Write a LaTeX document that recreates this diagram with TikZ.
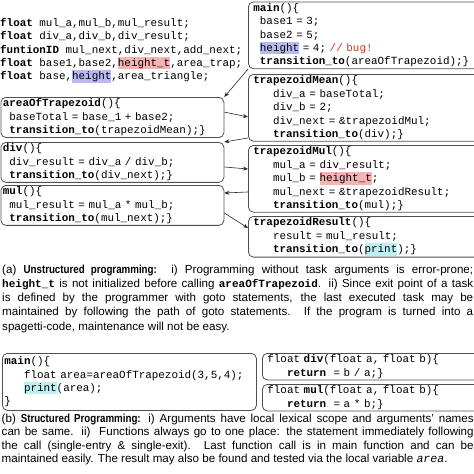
\documentclass[tikz,border=0pt]{standalone}
\usepackage{fontspec}
\usepackage{xcolor}
\usepackage{tikz}
\usetikzlibrary{arrows.meta, positioning, calc}
\setmainfont{Liberation Sans}
\newfontfamily\codefont{Liberation Mono}
\newfontfamily\headfont[FakeStretch=0.84]{Liberation Sans}
\definecolor{boxgray}{RGB}{80,80,80}
\definecolor{arrowgray}{RGB}{40,40,40}
\definecolor{hlred}{RGB}{244,180,180}
\definecolor{hlblue}{RGB}{185,185,240}
\definecolor{hlcyan}{RGB}{190,240,243}
\definecolor{bugred}{RGB}{195,60,45}
\newlength\chw
\setlength\chw{6.54pt}
\newcommand\codesize{\codefont\fontsize{10.9pt}{13.4pt}\selectfont}
\newcommand\capsize{\fontsize{11.6pt}{14.1pt}\selectfont}
\newcommand\capcode[1]{{\codefont\bfseries\fontsize{11pt}{14pt}\selectfont #1}}
\newcommand\hlt[2]{{\setlength\fboxsep{0pt}\colorbox{#1}{\rule[-3pt]{0pt}{12.5pt}#2}}}
\tikzset{
  codebox/.style={rectangle, draw=boxgray, rounded corners=5pt, line width=0.8pt,
    anchor=north west, align=left, inner xsep=2pt, inner ysep=1.5pt, font=\codesize},
  lbox/.style={codebox, text width=219pt},
  rbox/.style={codebox, inner xsep=5pt, text width=222pt},
  decl/.style={anchor=north west, inner sep=0pt, align=left, font=\codesize},
  captext/.style={anchor=north west, inner sep=0pt, text width=471pt,
    align=justify, font=\capsize},
  conn/.style={-{Stealth[length=5pt,width=4pt]}, line width=0.6pt, color=arrowgray}
}
\begin{document}
\begin{tikzpicture}[x=1pt, y=-1pt]
  \useasboundingbox (0,0) rectangle (474,474);
  \clip (0,0) rectangle (474,474);

  % Global declarations
  \node[decl] (decls) at (0,18) {\textbf{float} mul\_a,mul\_b,mul\_result;\\
    \textbf{float} div\_a,div\_b,div\_result;\\
    \textbf{funtionID} mul\_next,div\_next,add\_next;\\
    \textbf{float} base1,base2,\hlt{hlred}{height\_t},area\_trap;\\
    \textbf{float} base,\hlt{hlblue}{height},area\_triangle;};

  % Left column tasks
  \node[lbox] (aot) at (0.5,97) {\textbf{areaOfTrapezoid}()\{\\
    \hspace*{\chw}baseTotal = base\_1 + base2;\\
    \hspace*{\chw}\textbf{transition\_to}(trapezoidMean);\}};
  \node[lbox] (divA) at (0.5,142) {\textbf{div}()\{\\
    \hspace*{\chw}div\_result = div\_a / div\_b;\\
    \hspace*{\chw}\textbf{transition\_to}(div\_next);\}};
  \node[lbox] (mulA) at (0.5,185) {\textbf{mul}()\{\\
    \hspace*{\chw}mul\_result = mul\_a * mul\_b;\\
    \hspace*{\chw}\textbf{transition\_to}(mul\_next);\}};

  % Right column tasks
  \node[rbox] (mainA) at (248,1.5) {\textbf{main}()\{\\
    \hspace*{\chw}base1 = 3;\\
    \hspace*{\chw}base2 = 5;\\
    \hspace*{\chw}\hlt{hlblue}{height} = 4; \textcolor{bugred}{// bug!}\\
    \hspace*{\chw}\textbf{transition\_to}(areaOfTrapezoid);\}};
  \node[rbox] (tmean) at (248,74) {\textbf{trapezoidMean}()\{\\
    \hspace*{3\chw}div\_a = baseTotal;\\
    \hspace*{3\chw}div\_b = 2;\\
    \hspace*{3\chw}div\_next = \&trapezoidMul;\\
    \hspace*{3\chw}\textbf{transition\_to}(div);\}};
  \node[rbox] (tmul) at (248,145) {\textbf{trapezoidMul}()\{\\
    \hspace*{3\chw}mul\_a = div\_result;\\
    \hspace*{3\chw}mul\_b = \hlt{hlred}{height\_t};\\
    \hspace*{3\chw}mul\_next = \&trapezoidResult;\\
    \hspace*{3\chw}\textbf{transition\_to}(mul);\}};
  \node[rbox] (tresult) at (248,216) {\textbf{trapezoidResult}()\{\\
    \hspace*{3\chw}result = mul\_result;\\
    \hspace*{3\chw}\textbf{transition\_to}(\hlt{hlcyan}{print});\}};

  % Goto transitions
  \draw[conn] (mainA.south west) -- (aot.north east);
  \draw[conn] ([yshift=5.4pt]aot.east) -- ([yshift=-9.2pt]tmean.west);
  \draw[conn] ([yshift=3.6pt]tmean.south west) -- (divA.north east);
  \draw[conn] ([yshift=-4.6pt]divA.east) -- ([yshift=9.8pt]tmul.west);
  \draw[conn] ([yshift=-13.2pt]tmul.west) -- ([yshift=12.4pt]mulA.east);
  \draw[conn] ([yshift=-7.6pt]mulA.east) -- ([yshift=-12pt]tresult.north west);

  % Caption (a)
  \node[captext] (capA) at (2,265) {(a) {\headfont\bfseries Unstructured programming:}\ \ i) Programming without task arguments is error-prone;\linebreak
    \capcode{height\_t} is not initialized before calling \capcode{areaOfTrapezoid}. ii) Since exit point of a task\linebreak
    is defined by the programmer with goto statements, the last executed task may be\linebreak
    maintained by following the path of goto statements. If the program is turned into a\linebreak
    spagetti-code, maintenance will not be easy.};

  % Structured version
  \node[codebox, text width=250pt, minimum height=57pt] (mainB) at (2,353) {\textbf{main}()\{\\
    \hspace*{3\chw}float area=areaOfTrapezoid(3,5,4);\\
    \hspace*{3\chw}\hlt{hlcyan}{print}(area);\\
    \}};
  \node[codebox, inner xsep=5pt, text width=208pt] (divB) at (262,353) {float \textbf{div}(float a, float b)\{\\
    \hspace*{3\chw}\textbf{return}\ \ = b / a;\}};
  \node[codebox, inner xsep=5pt, text width=208pt] (mulB) at (262,384) {float \textbf{mul}(float a, float b)\{\\
    \hspace*{3\chw}\textbf{return}\ \ = a * b;\}};

  % Caption (b)
  \node[captext, text width=472pt, font=\fontsize{11.6pt}{13.2pt}\selectfont] (capB) at (1.5,414) {(b) {\headfont\bfseries Structured Programming:} i) Arguments have local lexical scope and arguments' names\linebreak
    can be same. ii)\ \ Functions always go to one place: the statement immediately following\linebreak
    the call (single-entry \& single-exit). Last function call is in main function and can be\linebreak
    maintained easily. The result may also be found and tested via the local variable {\codefont\itshape area}.};
\end{tikzpicture}
\end{document}
